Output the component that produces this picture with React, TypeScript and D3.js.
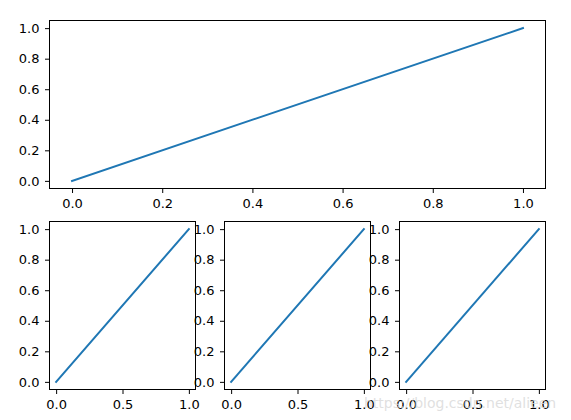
import { useRef, useEffect } from 'react';
import * as d3 from 'd3';

// data: plt.plot([0, 1], [0, 1]) in every subplot
const xValues = [0, 1];
const yValues = [0, 1];

const topXTicks = [0, 0.2, 0.4, 0.6, 0.8, 1.0];
const smallXTicks = [0, 0.5, 1.0];
const yTicks = [0, 0.2, 0.4, 0.6, 0.8, 1.0];

const WIDTH = 571;
const HEIGHT = 420;
const LINE_COLOR = '#1f77b4';
const FONT = "'DejaVu Sans', sans-serif";

interface Panel {
  left: number;
  top: number;
  width: number;
  height: number;
  xTicks: number[];
}

const panels: Panel[] = [
  { left: 49.5, top: 20.5, width: 496, height: 168, xTicks: topXTicks },
  { left: 49.5, top: 221.5, width: 146, height: 168, xTicks: smallXTicks },
  { left: 224.5, top: 221.5, width: 146, height: 168, xTicks: smallXTicks },
  { left: 399.5, top: 221.5, width: 146, height: 168, xTicks: smallXTicks },
];

export default function App() {
  const svgRef = useRef<SVGSVGElement>(null);

  useEffect(() => {
    if (!svgRef.current) return;
    const svg = d3.select(svgRef.current);
    svg.selectAll('*').remove();

    svg.append('rect').attr('width', WIDTH).attr('height', HEIGHT).attr('fill', '#fff');

    const points = xValues.map((x, i) => ({ x, y: yValues[i] }));

    panels.forEach((p) => {
      const g = svg.append('g').attr('transform', `translate(${p.left},${p.top})`);

      // matplotlib default 5% margins
      const xScale = d3.scaleLinear().domain([-0.05, 1.05]).range([0, p.width]);
      const yScale = d3.scaleLinear().domain([-0.05, 1.05]).range([p.height, 0]);

      const line = d3
        .line<{ x: number; y: number }>()
        .x((d) => xScale(d.x))
        .y((d) => yScale(d.y));

      g.append('path')
        .datum(points)
        .attr('d', line)
        .attr('fill', 'none')
        .attr('stroke', LINE_COLOR)
        .attr('stroke-width', 2)
        .attr('stroke-linecap', 'square');

      // x axis
      const xAxis = d3
        .axisBottom(xScale)
        .tickValues(p.xTicks)
        .tickSizeInner(4.5)
        .tickSizeOuter(0)
        .tickPadding(5.5)
        .tickFormat((d) => (d as number).toFixed(1));

      const xg = g.append('g').attr('transform', `translate(0,${p.height})`).call(xAxis);
      xg.attr('font-family', null).attr('font-size', null);
      xg.select('.domain').remove();
      xg.selectAll('.tick line').attr('stroke', '#000').attr('stroke-width', 1);
      xg.selectAll('.tick text')
        .attr('fill', '#000')
        .style('font-family', FONT)
        .style('font-size', '13px');

      // y axis
      const yAxis = d3
        .axisLeft(yScale)
        .tickValues(yTicks)
        .tickSizeInner(4.5)
        .tickSizeOuter(0)
        .tickPadding(5.5)
        .tickFormat((d) => (d as number).toFixed(1));

      const yg = g.append('g').call(yAxis);
      yg.attr('font-family', null).attr('font-size', null);
      yg.select('.domain').remove();
      yg.selectAll('.tick line').attr('stroke', '#000').attr('stroke-width', 1);
      yg.selectAll('.tick text')
        .attr('fill', '#000')
        .style('font-family', FONT)
        .style('font-size', '13px');

      // frame
      g.append('rect')
        .attr('width', p.width)
        .attr('height', p.height)
        .attr('fill', 'none')
        .attr('stroke', '#000')
        .attr('stroke-width', 1);
    });

    // watermark
    svg.append('text')
      .attr('x', 364)
      .attr('y', 408)
      .style('font-family', FONT)
      .style('font-size', '14px')
      .attr('fill', '#d8d8d8')
      .attr('fill-opacity', 0.8)
      .text('https://blog.csdn.net/alieen');
  }, []);

  return (
    <svg
      ref={svgRef}
      width={WIDTH}
      height={HEIGHT}
      style={{ position: 'fixed', left: 0, top: 0, display: 'block' }}
    />
  );
}
